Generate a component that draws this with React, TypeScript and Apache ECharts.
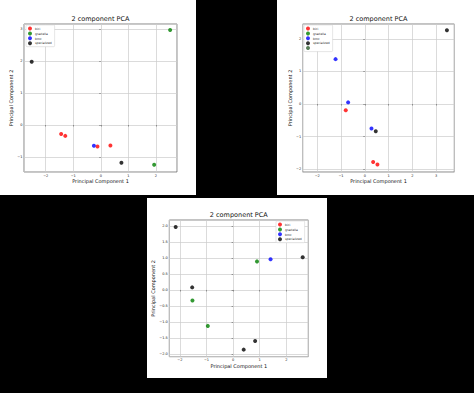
import React, { useEffect, useRef } from "react";
import * as echarts from "echarts";

// Legend categories and colours
const categories = ["bici", "graziella", "bmx", "specialized"];
const catColors = ["#ff0000", "#008000", "#0000ff", "#000000"];
const extraName = " ";
const extraColor = "#2e5e2e";

// Panel 1 (top left)
const p1Red = [[-1.44, -0.28], [-1.29, -0.34], [-0.12, -0.67], [0.35, -0.64]];
const p1Green = [[2.52, 2.97], [1.94, -1.24]];
const p1Blue = [[-0.25, -0.65]];
const p1Black = [[-2.51, 1.98], [0.75, -1.18]];
const p1X = [-2.79, 2.77];
const p1Y = [-1.47, 3.16];

// Panel 2 (top right)
const p2Red = [[-0.8, -0.19], [0.35, -1.78], [0.53, -1.86]];
const p2Green: number[][] = [];
const p2Blue = [[-1.23, 1.38], [-0.7, 0.05], [0.28, -0.75]];
const p2Black = [[3.45, 2.27], [0.46, -0.84]];
const p2X = [-2.61, 3.76];
const p2Y = [-2.09, 2.46];

// Panel 3 (bottom)
const p3Red: number[][] = [];
const p3Green = [[-1.53, -0.33], [-0.95, -1.12], [0.9, 0.89]];
const p3Blue = [[1.41, 0.96]];
const p3Black = [[-2.16, 1.96], [-1.54, 0.08], [2.62, 1.02], [0.83, -1.59], [0.4, -1.86]];
const p3X = [-2.4, 2.83];
const p3Y = [-2.08, 2.18];

const titleText = "2 component PCA";
const xName = "Principal Component 1";
const yName = "Principal Component 2";

const FONT = "DejaVu Sans";

const fmtInt = (v: number) => String(Math.round(v)).replace("-", "\u2212");
const fmtDec = (v: number) => v.toFixed(1).replace("-", "\u2212");

function makeAxis(kind: "x" | "y", idx: number, ext: number[], split: number, fmt: (v: number) => string) {
  return {
    type: "value",
    gridIndex: idx,
    min: ext[0],
    max: ext[1],
    splitNumber: split,
    name: kind === "x" ? xName : yName,
    nameLocation: "middle",
    nameGap: kind === "x" ? 6 : 9,
    nameTextStyle: { fontSize: 5, color: "#111", fontFamily: FONT },
    axisLine: { show: false },
    axisTick: { show: true, length: 1.5, lineStyle: { color: "#444", width: 0.5 } },
    axisLabel: {
      fontSize: 3.5,
      color: "#222",
      fontFamily: FONT,
      margin: 1.5,
      showMinLabel: false,
      showMaxLabel: false,
      formatter: fmt,
    },
    splitLine: { show: true, lineStyle: { color: "#cccccc", width: 0.7 } },
  };
}

function makeSeries(idx: number, sets: number[][][]) {
  return sets.map((d, i) => ({
    type: "scatter",
    name: categories[i],
    xAxisIndex: idx,
    yAxisIndex: idx,
    data: d,
    symbol: "circle",
    symbolSize: 4,
    itemStyle: { color: catColors[i] },
  }));
}

function makeLegend(pos: any, names: string[]) {
  return {
    ...pos,
    orient: "vertical",
    data: names,
    icon: "circle",
    itemWidth: 4,
    itemHeight: 4,
    itemGap: 0.9,
    padding: [1.5, 3, 1.5, 2],
    backgroundColor: "#fff",
    borderColor: "#ccc",
    borderWidth: 0.5,
    borderRadius: 1,
    textStyle: { fontSize: 3, color: "#222", fontFamily: FONT, padding: [0, 0, 0, -2] },
    selectedMode: false,
  };
}

export default function App() {
  const ref = useRef<HTMLDivElement>(null);
  useEffect(() => {
    if (!ref.current) return;
    const chart = echarts.init(ref.current, null, { renderer: "svg" });
    const grids = [
      { left: 24, top: 24, width: 153, height: 148 },
      { left: 302.7, top: 24, width: 151.6, height: 148 },
      { left: 169.3, top: 220, width: 139, height: 136.7 },
    ].map((g) => ({ ...g, show: true, backgroundColor: "#fff", borderColor: "#555", borderWidth: 0.7 }));

    const titles = [
      { x: 100.5, y: 15 },
      { x: 378.5, y: 15 },
      { x: 238.8, y: 211.7 },
    ].map((t) => ({
      text: titleText,
      left: t.x,
      top: t.y,
      textAlign: "center",
      padding: 0,
      textStyle: {
        fontSize: 6.5,
        fontWeight: "normal",
        fontFamily: FONT,
        color: "#111",
      },
    }));

    const option: any = {
      animation: false,
      backgroundColor: "#000",
      textStyle: { fontFamily: FONT },
      title: titles,
      graphic: [
        { type: "rect", z: -100, shape: { x: 0, y: 0, width: 196, height: 195 }, style: { fill: "#fff" } },
        { type: "rect", z: -100, shape: { x: 277, y: 0, width: 197, height: 195 }, style: { fill: "#fff" } },
        { type: "rect", z: -100, shape: { x: 147, y: 198, width: 180, height: 180 }, style: { fill: "#fff" } },
      ],
      grid: grids,
      xAxis: [
        makeAxis("x", 0, p1X, 5, fmtInt),
        makeAxis("x", 1, p2X, 6, fmtInt),
        makeAxis("x", 2, p3X, 5, fmtInt),
      ],
      yAxis: [
        makeAxis("y", 0, p1Y, 4, fmtInt),
        makeAxis("y", 1, p2Y, 4, fmtInt),
        makeAxis("y", 2, p3Y, 8, fmtDec),
      ],
      legend: [
        makeLegend({ left: 26, top: 25 }, categories),
        makeLegend({ left: 304, top: 25 }, [...categories, extraName]),
        makeLegend({ left: 276, top: 221 }, categories),
      ],
      series: [
        ...makeSeries(0, [p1Red, p1Green, p1Blue, p1Black]),
        ...makeSeries(1, [p2Red, p2Green, p2Blue, p2Black]),
        {
          type: "scatter",
          name: extraName,
          xAxisIndex: 1,
          yAxisIndex: 1,
          data: [],
          symbolSize: 4,
          itemStyle: { color: extraColor },
        },
        ...makeSeries(2, [p3Red, p3Green, p3Blue, p3Black]),
      ],
    };
    chart.setOption(option);
    return () => chart.dispose();
  }, []);
  return (
    <div
      ref={ref}
      style={{ position: "fixed", left: 0, top: 0, width: 474, height: 393 }}
    />
  );
}
